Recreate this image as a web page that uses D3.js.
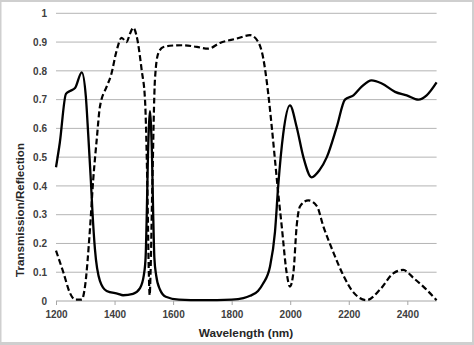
<!DOCTYPE html>
<html>
<head>
<meta charset="utf-8">
<script src="https://cdn.jsdelivr.net/npm/d3@7"></script>
<style>
  html, body { margin: 0; padding: 0; background: #fff; }
  svg { display: block; }
</style>
</head>
<body>
<svg id="chart" width="474" height="345"></svg>
<script>
// Transmission (solid) and reflection (dashed) spectra, wavelength in nm
const transWavelength = [1200, 1213, 1234, 1248, 1265, 1288, 1302, 1310, 1319, 1324, 1333, 1350, 1373, 1412, 1429, 1463, 1487, 1500, 1506, 1510, 1514, 1518, 1521, 1524, 1528, 1532, 1536, 1542, 1555, 1575, 1620, 1700, 1800, 1840, 1863, 1890, 1907, 1931, 1948, 1959, 1976, 1999, 2022, 2045, 2073, 2100, 2125, 2159, 2187, 2216, 2244, 2278, 2313, 2358, 2398, 2438, 2466, 2500];
const transValue = [0.465, 0.55, 0.72, 0.73, 0.74, 0.795, 0.71, 0.58, 0.42, 0.32, 0.18, 0.07, 0.035, 0.025, 0.02, 0.025, 0.045, 0.09, 0.15, 0.3, 0.5, 0.62, 0.66, 0.62, 0.5, 0.3, 0.15, 0.09, 0.04, 0.015, 0.005, 0.003, 0.005, 0.01, 0.018, 0.035, 0.06, 0.12, 0.24, 0.40, 0.58, 0.68, 0.605, 0.50, 0.43, 0.455, 0.50, 0.605, 0.70, 0.715, 0.745, 0.767, 0.756, 0.727, 0.715, 0.70, 0.715, 0.76];

const reflWavelength = [1200, 1225, 1248, 1265, 1288, 1299, 1316, 1327, 1339, 1350, 1373, 1388, 1407, 1424, 1441, 1453, 1464, 1476, 1493, 1504, 1512, 1517, 1520, 1523, 1529, 1538, 1549, 1567, 1600, 1635, 1681, 1720, 1760, 1817, 1863, 1891, 1908, 1925, 1937, 1948, 1959, 1971, 1988, 1999, 2011, 2022, 2034, 2062, 2091, 2113, 2147, 2181, 2216, 2261, 2307, 2352, 2386, 2421, 2461, 2500];
const reflValue = [0.175, 0.10, 0.027, 0.005, 0.005, 0.05, 0.25, 0.42, 0.56, 0.675, 0.745, 0.785, 0.87, 0.915, 0.90, 0.93, 0.95, 0.918, 0.80, 0.70, 0.40, 0.10, 0.02, 0.10, 0.40, 0.77, 0.86, 0.883, 0.888, 0.889, 0.883, 0.877, 0.897, 0.912, 0.924, 0.90, 0.843, 0.72, 0.605, 0.49, 0.375, 0.26, 0.097, 0.05, 0.10, 0.26, 0.33, 0.35, 0.33, 0.26, 0.17, 0.09, 0.03, 0.003, 0.04, 0.096, 0.108, 0.08, 0.044, 0.003];

const xTicks = [1200, 1400, 1600, 1800, 2000, 2200, 2400];
const yTicks = [0, 0.1, 0.2, 0.3, 0.4, 0.5, 0.6, 0.7, 0.8, 0.9, 1];
const xTitle = "Wavelength (nm)";
const yTitle = "Transmission/Reflection";

const svg = d3.select("#chart");
const W = 474, H = 345;

// outer frame
svg.append("rect").attr("x", 0).attr("y", 0).attr("width", W).attr("height", H).attr("fill", "#cfcfcf");
svg.append("rect").attr("x", 1.5).attr("y", 2).attr("width", W - 3.5).attr("height", H - 5).attr("fill", "#ffffff");

const x = d3.scaleLinear().domain([1200, 2500]).range([56, 436.6]);
const y = d3.scaleLinear().domain([0, 1]).range([301, 13.3]);

const font = "'Liberation Sans', Arial, sans-serif";

// horizontal gridlines
svg.append("g")
  .selectAll("line")
  .data(yTicks.filter(d => d > 0))
  .join("line")
  .attr("x1", x(1200)).attr("x2", x(2500))
  .attr("y1", d => y(d)).attr("y2", d => y(d))
  .attr("stroke", "#b4b4b4").attr("stroke-width", 1);

// x axis
const xAxis = svg.append("g")
  .attr("transform", `translate(0,${y(0)})`)
  .call(d3.axisBottom(x).tickValues(xTicks).tickSize(4).tickPadding(6).tickFormat(d3.format("d")));
xAxis.select(".domain").attr("stroke", "#a6a6a6").attr("d", `M${x(1200)},0H${x(2500)}`);
xAxis.selectAll(".tick line").attr("stroke", "#a6a6a6");
xAxis.selectAll("text")
  .attr("font-family", font).attr("font-size", 10).attr("font-weight", "bold").attr("fill", "#404040");

// y axis labels (no axis line)
const yAxis = svg.append("g")
  .attr("transform", `translate(${x(1200)},0)`)
  .call(d3.axisLeft(y).tickValues(yTicks).tickSize(0).tickPadding(9).tickFormat(d => d3.format("")(d)));
yAxis.select(".domain").remove();
yAxis.selectAll("text")
  .attr("font-family", font).attr("font-size", 10).attr("font-weight", "bold").attr("fill", "#404040");

// axis titles
svg.append("text")
  .attr("x", 246).attr("y", 337)
  .attr("text-anchor", "middle")
  .attr("font-family", font).attr("font-size", 11.8).attr("font-weight", "bold").attr("fill", "#262626")
  .text(xTitle);

svg.append("text")
  .attr("transform", "translate(24,210) rotate(-90)")
  .attr("text-anchor", "middle")
  .attr("font-family", font).attr("font-size", 11.6).attr("font-weight", "bold").attr("fill", "#262626")
  .text(yTitle);

// spectra
const line = d3.line()
  .x(d => x(d[0]))
  .y(d => y(d[1]))
  .curve(d3.curveMonotoneX);

const transData = transWavelength.map((w, i) => [w, transValue[i]]);
const reflData = reflWavelength.map((w, i) => [w, reflValue[i]]);

svg.append("path")
  .datum(reflData)
  .attr("d", line)
  .attr("fill", "none")
  .attr("stroke", "#000")
  .attr("stroke-width", 2.2)
  .attr("stroke-dasharray", "6,3");

svg.append("path")
  .datum(transData)
  .attr("d", line)
  .attr("fill", "none")
  .attr("stroke", "#000")
  .attr("stroke-width", 2.3);
</script>
</body>
</html>
